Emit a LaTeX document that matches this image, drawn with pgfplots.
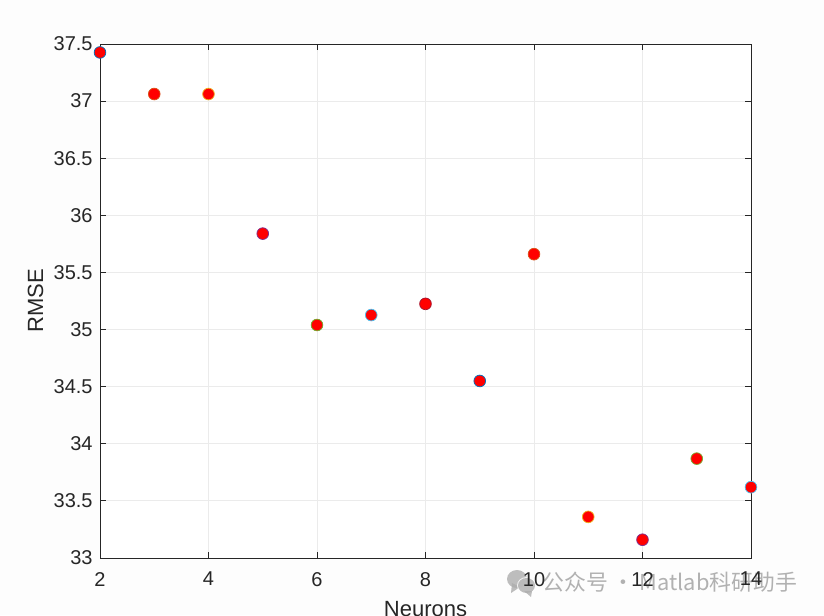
\documentclass[border=0pt]{standalone}
\usepackage{fontspec}
\setmainfont{Liberation Sans}
\newfontfamily\cjk{Noto Sans CJK SC}
\usepackage{pgfplots}
\pgfplotsset{compat=1.18}
\definecolor{mblue}{HTML}{0072BD}
\definecolor{morange}{HTML}{D95319}
\definecolor{myellow}{HTML}{EDB120}
\definecolor{mpurple}{HTML}{7E2F8E}
\definecolor{mgreen}{HTML}{77AC30}
\definecolor{mcyan}{HTML}{4DBEEE}
\definecolor{mdark}{HTML}{A2142F}
\definecolor{axdark}{HTML}{262626}
\definecolor{pagebg}{HTML}{FDFDFD}
\pgfplotstableread{
n rmse c
2 37.426 a
3 37.062 b
4 37.062 c
5 35.84 d
6 35.04 e
7 35.127 f
8 35.225 g
9 34.55 a
10 35.66 b
11 33.36 c
12 33.16 d
13 33.87 e
14 33.62 f
}\rmsedata
\begin{document}
\begin{tikzpicture}[x=0.75pt,y=0.75pt]
\useasboundingbox (0,0) rectangle (824,615);
\clip (0,0) rectangle (824,615);
\fill[pagebg] (0,0) rectangle (824,615);
% watermark, under the tick labels
\begin{scope}[opacity=0.8]
  \fill[black!32] (517,36) ellipse (10 and 9);
  \fill[black!32] (511,22) -- (512,32) -- (520,28) -- cycle;
  \fill[pagebg] (526.5,29.5) ellipse (9.5 and 8.5);
  \fill[black!32] (526.5,29.5) ellipse (8.5 and 7.5);
  \fill[black!32] (531,18) -- (524,24) -- (532,24) -- cycle;
  \node[anchor=west, inner sep=0pt, text=black!38] at (542,33)
    {\cjk\fontsize{16.4}{18}\selectfont 公众号 · Matlab科研助手};
\end{scope}
\begin{axis}[
  at={(75pt,42.75pt)}, anchor=south west,
  scale only axis, width=488.25pt, height=385.5pt,
  xmin=2, xmax=14, ymin=33, ymax=37.5,
  xtick={2,4,...,14},
  ytick={33,33.5,...,37.5},
  yticklabels={33,33.5,34,34.5,35,35.5,36,36.5,37,37.5},
  /pgf/number format/assume math mode=true,
  tick label style={font=\fontsize{15}{18}\selectfont, text=axdark},
  xticklabel style={yshift=-7pt},
  yticklabel style={xshift=-2pt},
  label style={font=\fontsize{16.5}{20}\selectfont, text=axdark},
  xlabel={Neurons}, ylabel={RMSE},
  ylabel style={at={(axis description cs:0,0.5)}, anchor=south, yshift=39pt},
  xlabel style={at={(axis description cs:0.5,0)}, anchor=north, yshift=-29pt},
  axis background/.style={fill=white},
  axis line style={axdark, line width=0.7pt},
  tick style={axdark, line width=0.6pt},
  tick align=inside, major tick length=4.8pt,
  xmajorgrids, ymajorgrids, grid style={black!8, line width=0.6pt},
  clip=false,
  scatter/classes={
    a={mark=*, fill=red, draw=mblue},
    b={mark=*, fill=red, draw=morange},
    c={mark=*, fill=red, draw=myellow},
    d={mark=*, fill=red, draw=mpurple},
    e={mark=*, fill=red, draw=mgreen},
    f={mark=*, fill=red, draw=mcyan},
    g={mark=*, fill=red, draw=mdark}},
]
\addplot[scatter, only marks, scatter src=explicit symbolic, mark size=4.4pt, line width=0.55pt]
  table[x=n, y=rmse, meta=c] {\rmsedata};
\end{axis}
\end{tikzpicture}
\end{document}
